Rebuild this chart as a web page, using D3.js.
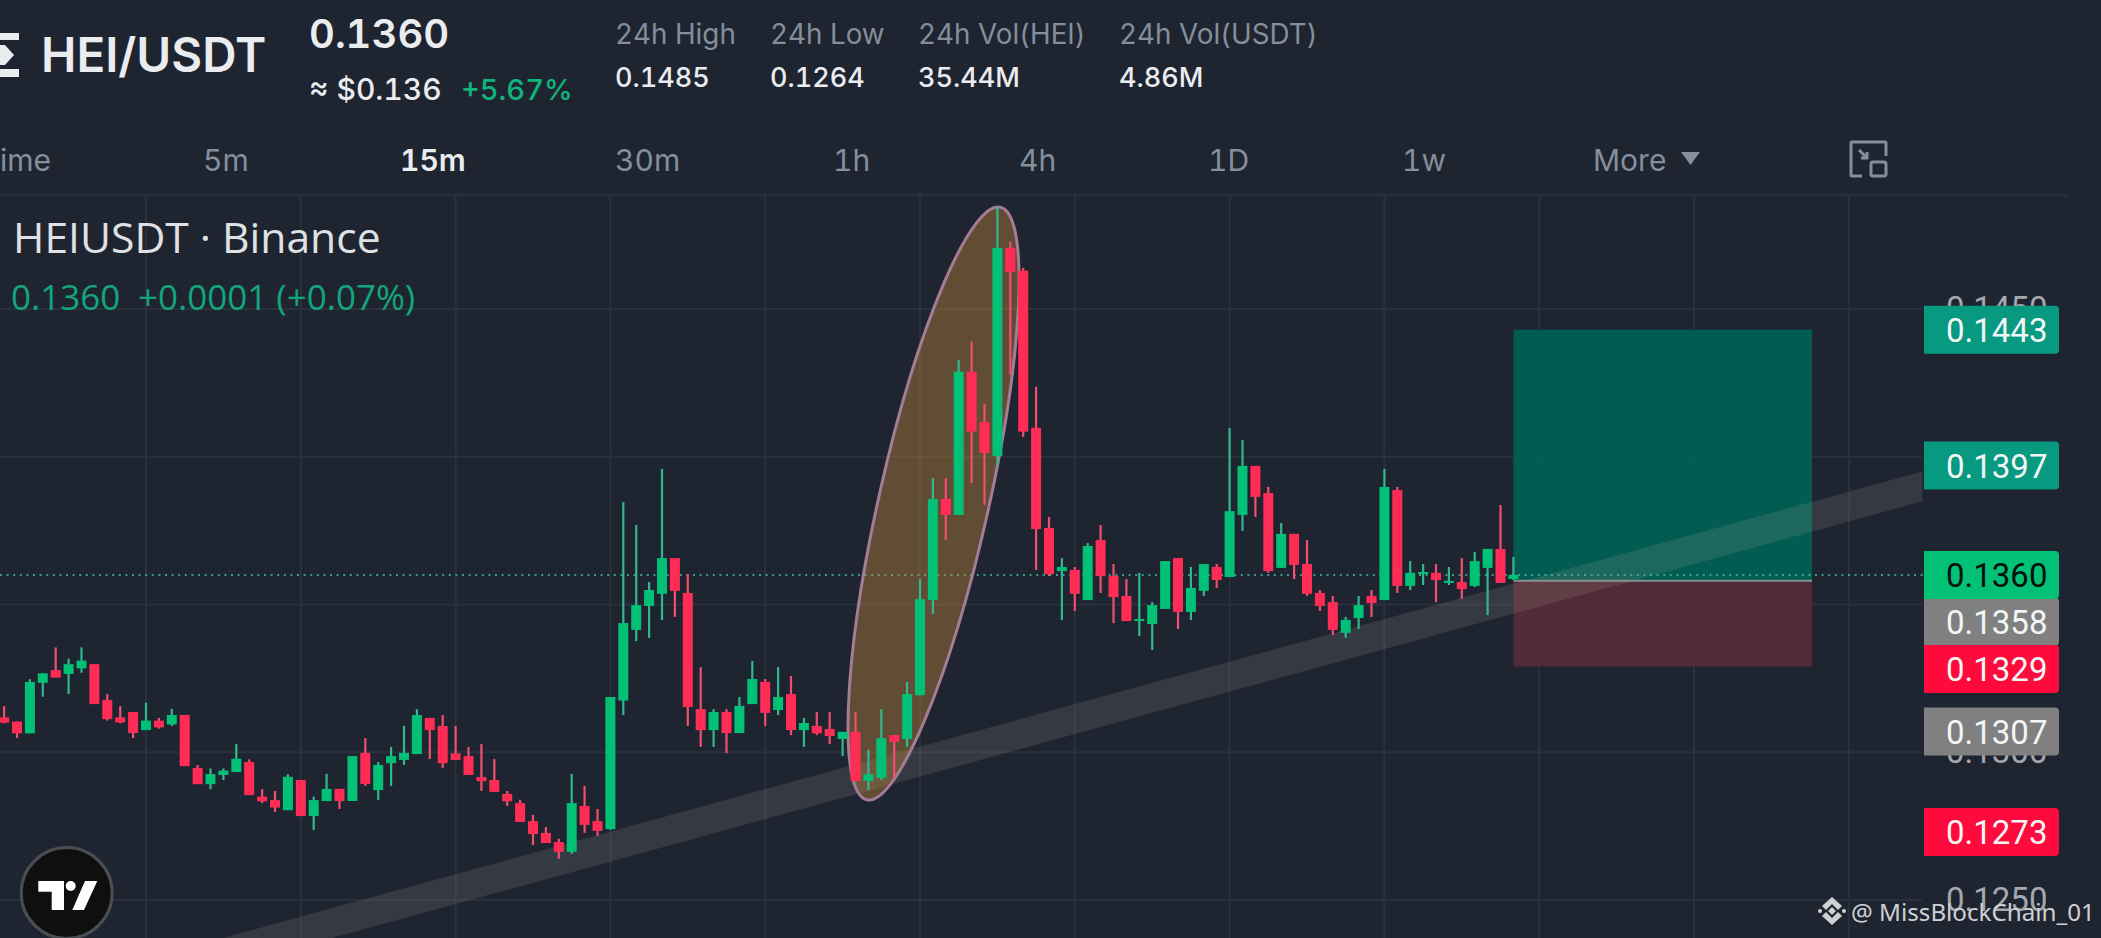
<!DOCTYPE html>
<html><head><meta charset="utf-8">
<style>html,body{margin:0;padding:0;background:#1e2530;overflow:hidden}svg{display:block}text{font-family:Inter,Roboto,sans-serif;font-feature-settings:"tnum" 1}</style>
<script src="https://cdn.jsdelivr.net/npm/d3@7/dist/d3.min.js"></script>
</head><body><div id="c"></div>
<script>
const opens=[.13118,.13104,.13064,.13235,.13278,.13265,.13284,.13298,.13177,.13118,.13136,.13075,.13107,.13094,.13126,.12947,.12892,.12923,.12933,.12967,.12850,.12838,.12804,.12906,.12784,.12835,.12876,.12835,.12998,.12872,.12963,.12974,.12994,.13116,.13089,.12996,.12987,.12916,.12906,.12859,.12828,.12767,.12727,.12696,.12663,.12818,.12767,.12740,.13175,.13414,.13495,.13536,.13657,.13539,.13146,.13075,.13136,.13065,.13163,.13238,.13143,.13197,.13075,.13089,.13079,.13045,.13069,.12903,.12913,.13058,.13045,.13193,.13515,.13857,.13803,.14288,.14118,.14003,.14707,.14630,.14098,.13759,.13613,.13617,.13515,.13718,.13596,.13529,.13444,.13434,.13485,.13657,.13475,.13546,.13627,.13593,.13803,.13969,.13877,.13624,.13739,.13637,.13539,.13508,.13404,.13454,.13529,.13515,.13887,.13563,.13603,.13607,.13573,.13576,.13563,.13624,.13688,.13586];
const closes=[.13100,.13064,.13238,.13267,.13253,.13298,.13310,.13163,.13112,.13101,.13065,.13107,.13084,.13126,.12953,.12892,.12926,.12938,.12978,.12855,.12834,.12813,.12917,.12784,.12838,.12876,.12835,.12987,.12893,.12957,.12987,.12998,.13126,.13075,.12963,.12974,.12923,.12902,.12866,.12834,.12764,.12723,.12693,.12663,.12828,.12754,.12734,.13187,.13437,.13498,.13549,.13657,.13546,.13153,.13075,.13136,.13065,.13157,.13248,.13133,.13187,.13075,.13099,.13064,.13055,.13069,.12903,.12926,.13048,.13035,.13197,.13518,.13857,.13803,.14288,.14085,.14013,.14707,.14626,.14085,.13755,.13603,.13627,.13536,.13698,.13596,.13525,.13444,.13451,.13498,.13647,.13475,.13556,.13637,.13583,.13816,.13969,.13864,.13613,.13739,.13634,.13536,.13495,.13414,.13448,.13498,.13505,.13898,.13563,.13607,.13610,.13583,.13580,.13552,.13647,.13688,.13573,.13600];
const highs=[.13156,.13104,.13247,.13267,.13355,.13317,.13355,.13298,.13197,.13156,.13136,.13168,.13116,.13147,.13126,.12957,.12945,.12945,.13028,.12976,.12875,.12869,.12926,.12906,.12850,.12927,.12876,.12987,.13048,.12967,.13018,.13089,.13146,.13116,.13126,.13089,.13018,.13028,.12977,.12869,.12839,.12788,.12747,.12707,.12927,.12886,.12808,.13187,.13847,.13769,.13576,.13959,.13657,.13603,.13288,.13146,.13146,.13187,.13309,.13248,.13288,.13258,.13116,.13136,.13136,.13069,.13136,.13008,.13146,.13058,.13238,.13586,.13928,.13928,.14327,.14389,.14179,.14846,.14728,.14639,.14237,.13796,.13657,.13627,.13708,.13769,.13637,.13586,.13607,.13508,.13647,.13657,.13627,.13637,.13637,.14097,.14057,.13969,.13898,.13776,.13739,.13718,.13549,.13529,.13458,.13529,.13549,.13959,.13898,.13647,.13637,.13637,.13627,.13657,.13678,.13688,.13837,.13661];
const lows=[.13098,.13048,.13064,.13188,.13253,.13197,.13269,.13163,.13107,.13098,.13048,.13075,.13080,.13089,.12953,.12892,.12875,.12906,.12933,.12855,.12828,.12798,.12804,.12784,.12737,.12835,.12808,.12835,.12886,.12839,.12886,.12957,.12994,.12977,.12947,.12974,.12923,.12869,.12866,.12818,.12764,.12686,.12693,.12639,.12656,.12727,.12717,.12737,.13126,.13376,.13387,.13448,.13458,.13089,.13018,.13018,.12997,.13065,.13163,.13089,.13126,.13058,.13018,.13058,.13028,.12987,.12903,.12872,.12906,.12913,.13018,.13193,.13468,.13718,.13803,.13911,.13837,.13972,.14277,.14067,.13617,.13596,.13448,.13478,.13515,.13539,.13437,.13444,.13393,.13346,.13485,.13417,.13448,.13529,.13556,.13593,.13749,.13796,.13607,.13624,.13586,.13529,.13478,.13397,.13387,.13417,.13458,.13515,.13539,.13549,.13566,.13508,.13566,.13519,.13559,.13464,.13573,.13583];
const priceTicks=[.145,.14,.135,.13,.125];
const gridIndexes=[11,23,35,47,59,71,83,95,107,119,131,143];
const lastPrice=.1360;
const priceTags=[[.1443,"0.1443","target"],[.1397,"0.1397","target"],[.1358,"0.1358","grey"],[.1307,"0.1307","grey"],[.1329,"0.1329","stop"],[.1273,"0.1273","stop"],[.1360,"0.1360","last"]];
const tagColours={target:"#079a80",last:"#02c076",grey:"#808080",stop:"#ff0a3c"};
const tagNudge={"0.1358":41,"0.1329":2.5};
const positionIndex=[117,140.15];
const positionPrices={target:.1443,entry:.1358,stop:.1329};
const trendIndex=[15.2,148.7];
const trendUpper=[.1235,.1395];
const trendLower=[.12249,.13849];
const ellipseCentre={index:72.05,price:.13842};
const headerStats=[["24h High","0.1485",615],["24h Low","0.1264",770],["24h Vol(HEI)","35.44M",918],["24h Vol(USDT)","4.86M",1119]];
const tabs=[["5m",203],["15m",400],["30m",615],["1h",833],["4h",1019],["1D",1208],["1w",1402],["More",1593]];

const W=2101,H=938;
const svg=d3.select("#c").append("svg").attr("width",W).attr("height",H).attr("viewBox",`0 0 ${W} ${H}`);
svg.append("rect").attr("width",W).attr("height",H).attr("fill","#1e2530");
const x=d3.scaleLinear().domain([0,117]).range([4.1,1513.4]);
const y=d3.scaleLinear().domain([.145,.125]).range([309,900]);
const GRID="#2b313c",UP="#02c076",DOWN="#ff2d55";

// grid
svg.append("g").selectAll("line").data(gridIndexes).join("line")
 .attr("x1",d=>x(d)).attr("x2",d=>x(d)).attr("y1",195).attr("y2",H).attr("stroke",GRID).attr("stroke-width",2);
svg.append("g").selectAll("line").data(priceTicks).join("line")
 .attr("x1",0).attr("x2",1922).attr("y1",d=>y(d)).attr("y2",d=>y(d)).attr("stroke",GRID).attr("stroke-width",2);
svg.append("line").attr("x1",0).attr("x2",2068).attr("y1",195).attr("y2",195).attr("stroke","#272e39").attr("stroke-width",3);

// price axis
const axis=d3.axisRight(y).tickValues(priceTicks).tickFormat(d3.format(".4f")).tickSize(0).tickPadding(0);
const ag=svg.append("g").attr("transform","translate(1946,0)").call(axis);
ag.select(".domain").remove();
ag.selectAll("text").attr("fill","#a4a7ad").style("font-family","Roboto").style("font-size","33px");

// position boxes
svg.append("rect").attr("x",x(positionIndex[0])).attr("width",x(positionIndex[1])-x(positionIndex[0]))
 .attr("y",y(positionPrices.target)).attr("height",y(positionPrices.entry)-y(positionPrices.target)).attr("fill","#006357").attr("opacity",.9);
svg.append("rect").attr("x",x(positionIndex[0])).attr("width",x(positionIndex[1])-x(positionIndex[0]))
 .attr("y",y(positionPrices.entry)).attr("height",y(positionPrices.stop)-y(positionPrices.entry)).attr("fill","#592b38").attr("opacity",.9);
svg.append("line").attr("x1",x(positionIndex[0])).attr("x2",x(positionIndex[1])).attr("y1",y(positionPrices.entry)).attr("y2",y(positionPrices.entry)).attr("stroke","#7f9090").attr("stroke-width",2);

// dotted last-price line
svg.append("line").attr("x1",0).attr("x2",1924).attr("y1",y(lastPrice)).attr("y2",y(lastPrice))
 .attr("stroke","#3fb39a").attr("stroke-width",2).attr("stroke-dasharray","2 4.6").attr("opacity",.85);

// trend band
const band=d3.area().x(d=>x(d.i)).y0(d=>y(d.lo)).y1(d=>y(d.hi));
svg.append("path").attr("d",band(trendIndex.map((i,k)=>({i,lo:trendLower[k],hi:trendUpper[k]})))).attr("fill","#a8a49a").attr("opacity",.165);

// ellipse
svg.append("ellipse").attr("cx",0).attr("cy",0).attr("rx",54.8).attr("ry",303.7)
 .attr("transform",`translate(${x(ellipseCentre.index)},${y(ellipseCentre.price)}) rotate(12.7)`)
 .attr("fill","#d6923c").attr("fill-opacity",.37).attr("stroke","#a47c96").attr("stroke-width",3);

// candles
const candles=d3.range(opens.length).map(i=>({i,o:opens[i],c:closes[i],h:highs[i],l:lows[i]}));
const g=svg.append("g");
const col=d=>d.c>=d.o?UP:DOWN;
g.selectAll("line").data(candles).join("line").attr("x1",d=>x(d.i)).attr("x2",d=>x(d.i))
 .attr("y1",d=>y(d.h)).attr("y2",d=>y(d.l)).attr("stroke",d=>d.c>=d.o?"#32b78e":"#f0506e").attr("stroke-width",2.2);
g.selectAll("rect").data(candles).join("rect").attr("x",d=>x(d.i)-5).attr("width",10)
 .attr("y",d=>y(Math.max(d.o,d.c))).attr("height",d=>Math.max(2,Math.abs(y(d.o)-y(d.c)))).attr("fill",col);

// price tags
const tag=svg.append("g").selectAll("g").data(priceTags).join("g").attr("transform",d=>`translate(1924,${y(d[0])+(tagNudge[d[1]]||0)})`);
tag.append("path").attr("d","M0,-24H131a4,4 0 0 1 4,4V20a4,4 0 0 1 -4,4H0Z").attr("fill",d=>tagColours[d[2]]);
tag.append("text").attr("x",22).attr("y",12).text(d=>d[1]).attr("fill",d=>d[2]==="last"?"#06100c":"#f2f6f6")
 .style("font-family","Roboto").style("font-size","33px");

// header
function T(s,px,py,size,fill,weight,fam){return svg.append("text").attr("x",px).attr("y",py).text(s).attr("fill",fill).style("font-size",size+"px").style("font-weight",weight||400).style("font-family",fam||"Inter");}
svg.append("rect").attr("x",0).attr("y",33).attr("width",19).attr("height",7).attr("fill","#eaecef");
svg.append("rect").attr("x",0).attr("y",69).attr("width",19).attr("height",8).attr("fill","#eaecef");
svg.append("path").attr("d","M0,45H5L14,55L5,65H0Z").attr("fill","#eaecef");
T("HEI/USDT",41,72,47.5,"#eaecef",600);
T("0.1360",309,48,40,"#eaecef",600);
T("≈ $0.136",309,100,30,"#eaecef",500);
T("+5.67%",461,100,29,"#0fb57c",500);
headerStats.forEach(s=>{T(s[0],s[2],44,27.8,"#848e9c",400);T(s[1],s[2],87,27,"#eaecef",500);});
svg.append("text").attr("x",51).attr("y",171).attr("text-anchor","end").text("Time").attr("fill","#848e9c").style("font-size","30px");
tabs.forEach(t=>T(t[0],t[1],171,30,t[0]==="15m"?"#eaecef":"#848e9c",t[0]==="15m"?600:400));
svg.append("path").attr("d","M1681,152H1700L1690.5,165Z").attr("fill","#848e9c");
svg.append("path").attr("d","M1868,142H1852a1,1 0 0 0 -1,1V175a1,1 0 0 0 1,1H1862M1857,142H1885a1,1 0 0 1 1,1V156M1859,150L1867,158M1861,158H1867V152").attr("fill","none").attr("stroke","#848e9c").attr("stroke-width",3);
svg.append("rect").attr("x",1871).attr("y",162).attr("width",15).attr("height",14).attr("rx",2).attr("fill","none").attr("stroke","#848e9c").attr("stroke-width",3);

// legend
T("HEIUSDT · Binance",13,253,42.6,"#dfe1e4",400,"Open Sans");
T("0.1360",11,310,35,"#12a57e",400,"Open Sans");
T("+0.0001 (+0.07%)",138,310,35,"#12a57e",400,"Open Sans");

// TV badge
svg.append("circle").attr("cx",66.7).attr("cy",893).attr("r",45.5).attr("fill","#0f0f10").attr("stroke","#4a4d52").attr("stroke-width",3);
svg.append("path").attr("d","M38.3,881H64V910H51.7V891.7H38.3Z M85,881H97.3L84,910H72.3Z").attr("fill","#fff");
svg.append("circle").attr("cx",70.7).attr("cy",886).attr("r",5).attr("fill","#fff");

// watermark
T("@ MissBlockChain_01",1851,921,24.2,"#cfd1d4",400,"Noto Sans");
const wm=svg.append("g").attr("fill","#cfd1d4").attr("transform","translate(1832,911)");
wm.append("path").attr("d","M0,-14L10,-5L6,-1L0,-7L-6,-1L-10,-5Z M0,14L10,5L6,1L0,7L-6,1L-10,5Z M0,-4L4,0L0,4L-4,0Z");
wm.append("circle").attr("cx",-12).attr("cy",0).attr("r",2);
wm.append("circle").attr("cx",12).attr("cy",0).attr("r",2);
</script></body></html>
